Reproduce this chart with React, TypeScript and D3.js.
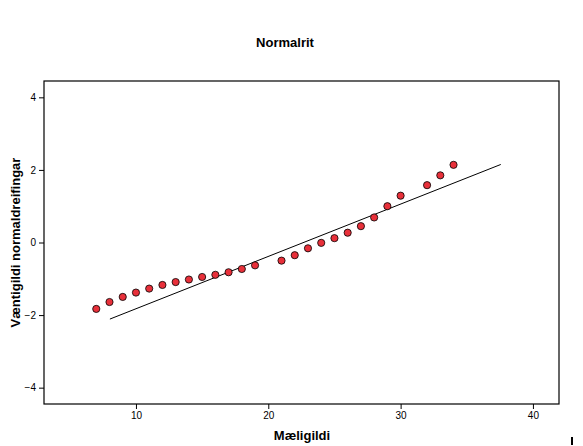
import { useEffect, useRef } from "react";
import * as d3 from "d3";

// observed values (Mæligildi)
const measured = [
  7, 8, 9, 10, 11, 12, 13, 14, 15, 16, 17, 18, 19,
  21, 22, 23, 24, 25, 26, 27, 28, 29, 30, 32, 33, 34,
];
// expected normal values (Væntigildi normaldreifingar)
const expected = [
  -1.83, -1.64, -1.5, -1.38, -1.27, -1.17, -1.09, -1.02, -0.95, -0.89, -0.82, -0.73, -0.63,
  -0.5, -0.35, -0.16, -0.01, 0.12, 0.27, 0.45, 0.69, 1.0, 1.29, 1.58, 1.85, 2.14,
];
// reference line end points
const lineX = [8.03, 37.57];
const lineY = [-2.11, 2.15];

const xTicks = [10, 20, 30, 40];
const yTicks = [-4, -2, 0, 2, 4];

const W = 583;
const H = 446;
const font = "Arial, 'Liberation Sans', sans-serif";

export default function App() {
  const ref = useRef<SVGSVGElement>(null);

  useEffect(() => {
    const svg = d3.select(ref.current);
    svg.selectAll("*").remove();

    const left = 44, right = 559, top = 81, bottom = 404;
    const x = d3.scaleLinear().domain([3.05, 41.97]).range([left, right]);
    const y = d3.scaleLinear().domain([-4.45, 4.45]).range([bottom, top]);

    svg.append("rect").attr("width", W).attr("height", H).attr("fill", "#fff");

    svg
      .append("text")
      .attr("x", 285)
      .attr("y", 47)
      .attr("text-anchor", "middle")
      .attr("font-family", font)
      .attr("font-weight", "bold")
      .attr("font-size", 13)
      .text("Normalrit");

    const xAxis = svg
      .append("g")
      .attr("transform", `translate(0,${bottom})`)
      .call(d3.axisBottom(x).tickValues(xTicks).tickSize(5).tickPadding(3));
    const yAxis = svg
      .append("g")
      .attr("transform", `translate(${left},0)`)
      .call(d3.axisLeft(y).tickValues(yTicks).tickSize(5).tickPadding(3));

    [xAxis, yAxis].forEach((g) => {
      g.select(".domain").remove();
      g.selectAll("line").attr("stroke", "#000");
      g.selectAll("text")
        .attr("font-family", font)
        .attr("font-size", 10)
        .attr("fill", "#000");
    });

    svg
      .append("rect")
      .attr("x", left)
      .attr("y", top)
      .attr("width", right - left)
      .attr("height", bottom - top)
      .attr("fill", "none")
      .attr("stroke", "#000")
      .attr("stroke-width", 1.2);

    svg
      .append("line")
      .attr("x1", x(lineX[0]))
      .attr("y1", y(lineY[0]))
      .attr("x2", x(lineX[1]))
      .attr("y2", y(lineY[1]))
      .attr("stroke", "#000")
      .attr("stroke-width", 1);

    svg
      .append("g")
      .selectAll("circle")
      .data(measured)
      .join("circle")
      .attr("cx", (d) => x(d))
      .attr("cy", (_, i) => y(expected[i]))
      .attr("r", 3.6)
      .attr("fill", "#e8303a")
      .attr("stroke", "#000")
      .attr("stroke-width", 0.8);

    svg
      .append("text")
      .attr("x", 302)
      .attr("y", 440)
      .attr("text-anchor", "middle")
      .attr("font-family", font)
      .attr("font-weight", "bold")
      .attr("font-size", 13)
      .text("Mæligildi");

    svg
      .append("text")
      .attr("transform", `translate(20,${(top + bottom) / 2}) rotate(-90)`)
      .attr("text-anchor", "middle")
      .attr("font-family", font)
      .attr("font-weight", "bold")
      .attr("font-size", 13)
      .text("Væntigildi normaldreifingar");

    svg
      .append("rect")
      .attr("x", 571)
      .attr("y", 437)
      .attr("width", 2)
      .attr("height", 8)
      .attr("fill", "#000");
  }, []);

  return (
    <svg
      ref={ref}
      width={W}
      height={H}
      style={{ position: "absolute", left: 0, top: 0 }}
    />
  );
}
